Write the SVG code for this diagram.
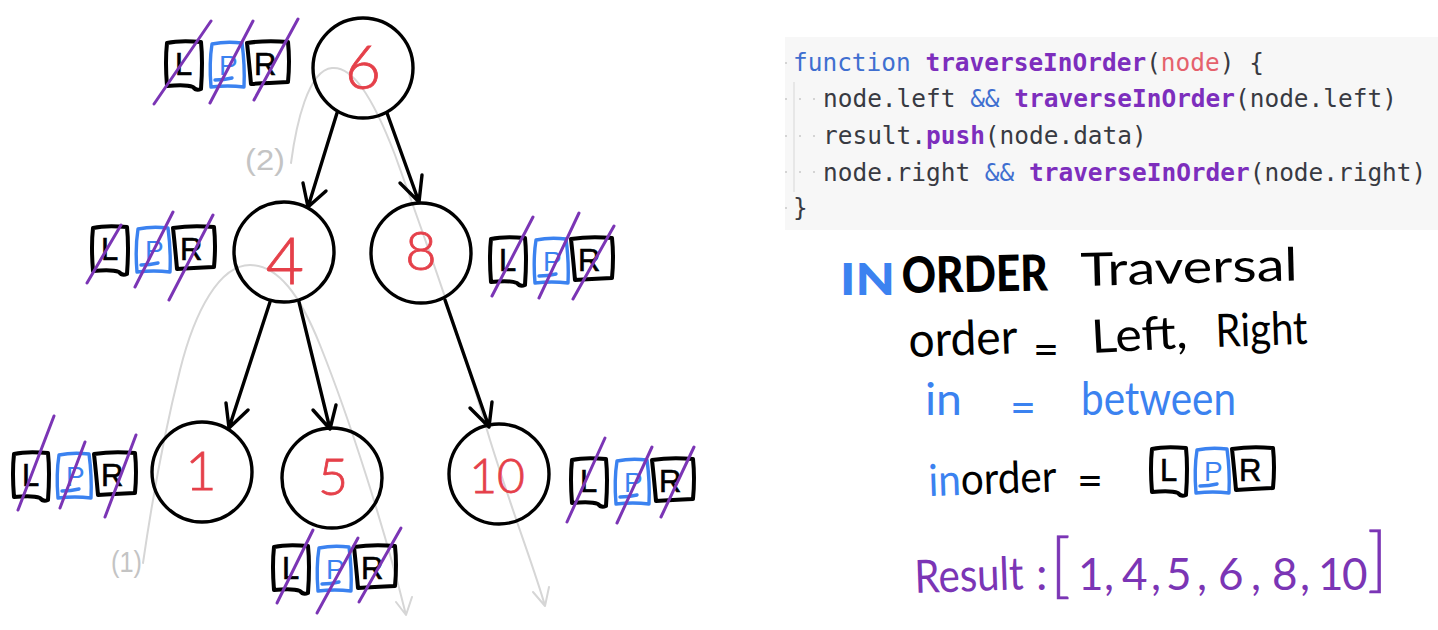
<svg xmlns="http://www.w3.org/2000/svg" width="1438" height="630" viewBox="0 0 1438 630">
<style>
.c{fill:none;stroke:#000;stroke-width:3.4}
.d{font-family:"Lato","Liberation Sans",sans-serif;font-weight:300;fill:#e5404a;text-anchor:middle;stroke:#e5404a;stroke-width:.8}
.k{fill:none;stroke:#000;stroke-width:4;stroke-linecap:round;stroke-linejoin:round}
.a{fill:none;stroke:#000;stroke-width:3.4;stroke-linecap:round;stroke-linejoin:round}
.g{fill:none;stroke:#d6d6d6;stroke-width:2;stroke-linecap:round;stroke-linejoin:round}
.gt{font-family:"Liberation Sans",sans-serif;font-size:30px;fill:#c4c4c4}
.b{fill:none;stroke:#3b82f0;stroke-width:3.4;stroke-linecap:round;stroke-linejoin:round}
.s{fill:none;stroke:#7b35b5;stroke-width:3;stroke-linecap:round}
.tl{font-family:"Liberation Sans",sans-serif;font-size:31px;fill:#000;stroke:#000;stroke-width:.6}
.tp{font-family:"Liberation Sans",sans-serif;font-size:28px;fill:#3b82f0}
.code{font-family:"DejaVu Sans Mono","Liberation Mono",monospace;font-size:24.45px;fill:#383a42}
.kw{fill:#3f6fd0}.fn{fill:#7d2ebd;font-weight:bold}.pm{fill:#e5616c}
.dot{fill:#d4d4d4}
.h{font-family:"Lato","Open Sans",sans-serif;fill:#000}
.hb{fill:#3b82f0}.hp{fill:#7b35b5}
</style>
<defs>
<path id="bl" d="M1 2Q14 -1 35 1Q37 20 35 48Q30 50 27 46Q20 43 1 45Q-1 20 1 2Z"/>
<path id="bp" d="M46 3Q60 0 76 2Q79 24 78 46Q62 44 45 46Q43 22 46 3Z"/>
<path id="br" d="M81 2Q100 -1 122 1Q124 20 122 41Q100 42 85 43Q83 20 81 2Z"/>
<path id="bu" d="M49 39Q58 39 66 37"/>
<g id="tile">
<use href="#bl" class="k"/><use href="#bp" class="b"/><use href="#br" class="k"/><use href="#bu" class="b"/>
</g>
</defs>
<rect x="785" y="37" width="653" height="193" fill="#f7f7f7"/>

<g id="connectors">
<path class="g" d="M291 163C296 125 308 70 332 68C352 66 372 95 395 155C420 225 455 320 490 440C515 520 535 570 545 606M533 592L545 606L549 587"/>
<path class="g" d="M143 563C155 480 170 410 180 370C195 310 220 265 250 265C278 265 300 295 320 345C350 420 385 530 406 615M396 602L406 615L412 597"/>
<path class="a" d="M337 113L308 207M303 183L308 207L326 191"/>
<path class="a" d="M387 113L419 202M400 183L419 202L422 175"/>
<path class="a" d="M270 302L229 428M226 403L229 428L248 410"/>
<path class="a" d="M299 302L330 429M313 410L330 429L336 405"/>
<path class="a" d="M445 300L489 427M470 408L489 427L492 402"/>
</g>

<g id="node-6"><circle class="c" cx="363" cy="68" r="50"/><text class="d" font-size="62" x="363" y="89">6</text></g>
<g id="node-4"><circle class="c" cx="284" cy="252" r="50"/><text class="d" font-size="66" x="285" y="284">4</text></g>
<g id="node-8"><circle class="c" cx="421" cy="253" r="50"/><text class="d" font-size="54" x="421" y="270">8</text></g>
<g id="node-1"><circle class="c" cx="202" cy="472" r="50"/><text class="d" font-size="54" x="201" y="490">1</text></g>
<g id="node-5"><circle class="c" cx="332" cy="478" r="50"/><text class="d" font-size="52" x="333" y="495">5</text></g>
<g id="node-10"><circle class="c" cx="499" cy="474" r="50"/><text class="d" font-size="48" x="497" y="493">10</text></g>

<g id="tile-6" transform="translate(166 41)"><use href="#tile"/><text class="tl" x="9" y="34">L</text><text class="tp" x="53" y="34">P</text><text class="tl" x="88" y="34">R</text></g>
<path class="s" d="M154 104L211 21M210 103L253 21M254 100L298 19"/>
<g id="tile-4" transform="translate(92 226)"><use href="#tile"/><text class="tl" x="9" y="34">L</text><text class="tp" x="53" y="34">P</text><text class="tl" x="88" y="34">R</text></g>
<path class="s" d="M87 283L121 225M135 287L173 212M169 300L213 215"/>
<g id="tile-8" transform="translate(490 237)"><use href="#tile"/><text class="tl" x="9" y="34">L</text><text class="tp" x="53" y="34">P</text><text class="tl" x="88" y="34">R</text></g>
<path class="s" d="M492 296L533 217M539 298L579 213M573 299L614 226"/>
<g id="tile-1" transform="translate(13 452)"><use href="#tile"/><text class="tl" x="9" y="34">L</text><text class="tp" x="53" y="34">P</text><text class="tl" x="88" y="34">R</text></g>
<path class="s" d="M18 510L54 416M60 508L85 442M105 517L136 435"/>
<g id="tile-5" transform="translate(273 545)"><use href="#tile"/><text class="tl" x="9" y="34">L</text><text class="tp" x="53" y="34">P</text><text class="tl" x="88" y="34">R</text></g>
<path class="s" d="M277 603L313 530M317 613L358 538M359 602L401 528"/>
<g id="tile-10" transform="translate(571 458)"><use href="#tile"/><text class="tl" x="9" y="34">L</text><text class="tp" x="53" y="34">P</text><text class="tl" x="88" y="34">R</text></g>
<path class="s" d="M567 522L605 438M617 523L652 447M661 517L694 447"/>

<text class="gt" x="245" y="170" textLength="40" lengthAdjust="spacingAndGlyphs">(2)</text>
<text class="gt" x="111" y="572" textLength="31" lengthAdjust="spacingAndGlyphs">(1)</text>

<g id="code">
<path d="M794 82V192" stroke="#e2e2e2" stroke-width="1.5" fill="none"/>
<rect class="dot" x="785" y="62" width="2" height="2"/>
<rect class="dot" x="785" y="98" width="2" height="2"/><rect class="dot" x="799" y="98" width="2" height="2"/><rect class="dot" x="813" y="98" width="2" height="2"/>
<rect class="dot" x="785" y="135" width="2" height="2"/><rect class="dot" x="799" y="135" width="2" height="2"/><rect class="dot" x="813" y="135" width="2" height="2"/>
<rect class="dot" x="785" y="171" width="2" height="2"/><rect class="dot" x="799" y="171" width="2" height="2"/><rect class="dot" x="813" y="171" width="2" height="2"/>
<rect class="dot" x="785" y="207" width="2" height="2"/>
<text class="code" x="793" y="71"><tspan class="kw">function</tspan> <tspan class="fn">traverseInOrder</tspan>(<tspan class="pm">node</tspan>) {</text>
<text class="code" x="823" y="107">node.left <tspan class="kw">&amp;&amp;</tspan> <tspan class="fn">traverseInOrder</tspan>(node.left)</text>
<text class="code" x="823" y="144">result.<tspan class="fn">push</tspan>(node.data)</text>
<text class="code" x="823" y="181">node.right <tspan class="kw">&amp;&amp;</tspan> <tspan class="fn">traverseInOrder</tspan>(node.right)</text>
<text class="code" x="793" y="216">}</text>
</g>

<g id="notes">
<text class="h" x="840" y="295" font-size="43" font-weight="900"><tspan class="hb" textLength="55" lengthAdjust="spacingAndGlyphs">IN</tspan></text>
<text class="h" x="902" y="293" font-size="50" font-weight="900" textLength="146" lengthAdjust="spacingAndGlyphs" transform="rotate(-1 902 293)">ORDER</text>
<text class="h" x="1081" y="286" font-size="46" textLength="217" lengthAdjust="spacingAndGlyphs" transform="rotate(-1.5 1081 286)">Traversal</text>
<text class="h" x="909" y="357" font-size="48" textLength="109" lengthAdjust="spacingAndGlyphs" transform="rotate(-2 909 357)">order</text>
<text class="h" x="1033" y="365" font-size="44" textLength="26" lengthAdjust="spacingAndGlyphs">=</text>
<text class="h" x="1092" y="353" font-size="46" textLength="96" lengthAdjust="spacingAndGlyphs" transform="rotate(-3 1092 353)">Left,</text>
<text class="h" x="1216" y="347" font-size="46" textLength="92" lengthAdjust="spacingAndGlyphs" transform="rotate(-2 1216 347)">Right</text>
<text class="h hb" x="925" y="415" font-size="44" textLength="37" lengthAdjust="spacingAndGlyphs">in</text>
<text class="h hb" x="1010" y="423" font-size="44" textLength="26" lengthAdjust="spacingAndGlyphs">=</text>
<text class="h hb" x="1081" y="415" font-size="46" textLength="155" lengthAdjust="spacingAndGlyphs">between</text>
<text class="h" x="929" y="496" font-size="44" textLength="128" lengthAdjust="spacingAndGlyphs" transform="rotate(-2 929 496)"><tspan class="hb">in</tspan>order</text>
<text class="h" x="1077" y="496" font-size="44" textLength="26" lengthAdjust="spacingAndGlyphs">=</text>
<g id="tile-key" transform="translate(1151 447)"><use href="#tile"/><text class="tl" x="9" y="34">L</text><text class="tp" x="53" y="34">P</text><text class="tl" x="88" y="34">R</text></g>
<text class="h hp" x="915" y="593" font-size="46" textLength="109" lengthAdjust="spacingAndGlyphs" transform="rotate(-2 915 593)">Result</text>
<text class="h hp" x="1036" y="590" font-size="46">:</text>
<text class="h hp" y="590" font-size="44"><tspan x="1050" y="590" font-size="70" font-weight="300" stroke="#7b35b5" stroke-width=".5">[</tspan><tspan x="1078 1104 1122 1151 1166 1197 1218 1251 1272 1300 1318 1342" stroke-width="0">1,4,5,6,8,10</tspan><tspan x="1367" y="584" font-size="70" font-weight="300" stroke="#7b35b5" stroke-width=".5">]</tspan></text>
</g>
</svg>
